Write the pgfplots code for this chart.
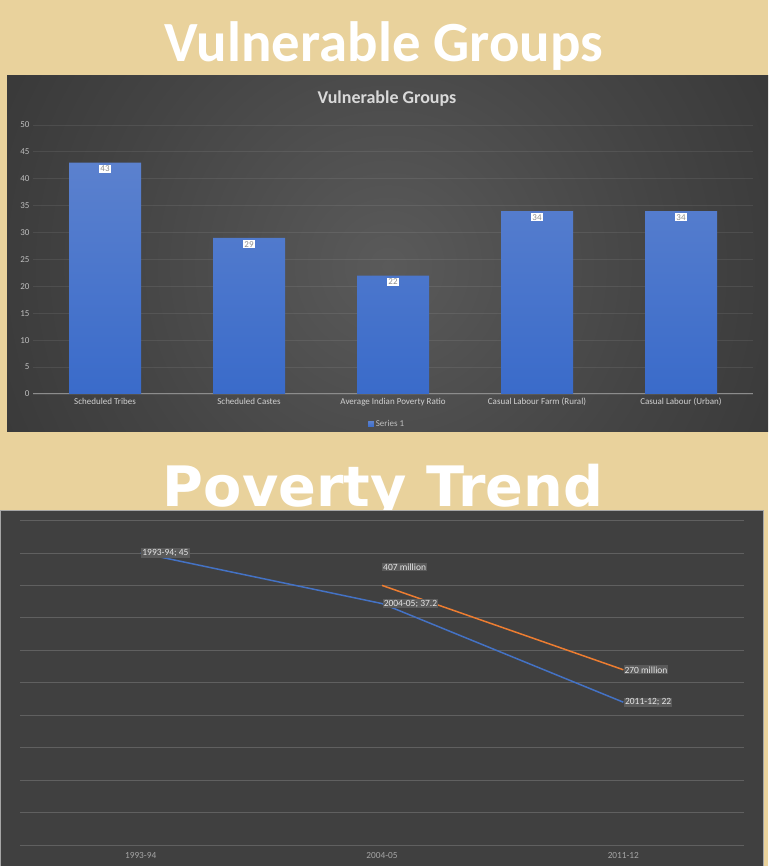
\documentclass[border=0pt]{standalone}
\usepackage{fontspec}
\setmainfont{Carlito}
\newfontfamily\dejavu{DejaVu Sans}
\usepackage{graphicx}
\usepackage{pgfplots}
\usepackage{pgfplotstable}
\pgfplotsset{compat=1.18}

\definecolor{bgtan}{HTML}{E9D29C}
\definecolor{g0}{HTML}{5A5A5A}
\definecolor{g1}{HTML}{444444}
\definecolor{g2}{HTML}{353535}
\definecolor{g3}{HTML}{262626}
\definecolor{g4}{HTML}{1C1C1C}
\definecolor{bartop}{HTML}{5B81CE}
\definecolor{barbot}{HTML}{3A6BCA}
\definecolor{barleg}{HTML}{4472C4}
\definecolor{lineblue}{HTML}{4472C4}
\definecolor{lineorange}{HTML}{ED7D31}
\definecolor{chartdark}{HTML}{404040}
\definecolor{ticktxt}{HTML}{BFBFBF}
\definecolor{titletxt}{HTML}{D9D9D9}
\definecolor{labbg}{HTML}{5A5A5A}
\definecolor{labtxt}{HTML}{E6E6E6}
\definecolor{grid2}{HTML}{606060}

\pgfdeclareradialshading{chartbg}{\pgfpoint{0bp}{0bp}}{color(0bp)=(g0); color(18bp)=(g1); color(32bp)=(g2); color(50bp)=(g3); color(72bp)=(g4)}

\pgfplotstableread{
x y label
0 45 {1993-94{\char59} 45}
1 37.2 {2004-05{\char59} 37.2}
2 22 {2011-12{\char59} 22}
}\bluedata

\begin{document}
\begin{tikzpicture}[x=1pt,y=1pt]
\useasboundingbox (0,0) rectangle (768,866);
\fill[bgtan] (0,0) rectangle (768,866);

% ---- header 1
\node[anchor=base, inner sep=0pt, text=white] at (384,804)
  {\resizebox{438pt}{!}{\fontsize{56}{60}\selectfont\bfseries Vulnerable Groups}};

% ---- chart 1 background (circular radial gradient)
\begin{scope}
\clip (5,434) rectangle (768,790);
\shade[shading=chartbg] (388-381,600-381) rectangle (388+381,600+381);
\end{scope}
\node[anchor=base, inner sep=0pt, text=titletxt] at (387,762)
  {\fontsize{18}{20}\selectfont\bfseries Vulnerable Groups};

\begin{axis}[
  at={(33pt,472pt)}, anchor=south west,
  scale only axis, width=720pt, height=269pt,
  ybar, bar width=72pt,
  xmin=-0.5, xmax=4.5, ymin=0, ymax=50,
  enlarge x limits=false,
  xtick={0,1,2,3,4},
  xticklabels={Scheduled Tribes, Scheduled Castes, Average Indian Poverty Ratio, Casual Labour Farm (Rural), Casual Labour (Urban)},
  ytick={0,5,...,50},
  /pgf/number format/assume math mode=true,
  tick style={draw=none},
  axis x line*=bottom, axis y line*=left,
  x axis line style={draw=white!55!black, line width=1pt, -},
  y axis line style={draw=none},
  ymajorgrids,
  major grid style={draw=white, opacity=0.08, line width=0.8pt},
  ticklabel style={font=\fontsize{9}{10}\selectfont, text=ticktxt},
  xticklabel style={text=white!82!black, yshift=4pt},
  legend style={at={(0.492,-0.112)}, anchor=center, draw=none, fill=none,
    text=ticktxt, font=\fontsize{9}{10}\selectfont},
  legend image code/.code={\fill[barleg] (0pt,-2.8pt) rectangle (5.5pt,2.8pt);},
  nodes near coords,
  every node near coord/.append style={anchor=north, yshift=-2pt, fill=white,
    text=black!45, inner sep=1pt, font=\fontsize{9}{9}\selectfont},
]
\addplot[draw=none, top color=bartop, bottom color=barbot] coordinates {(0,43) (1,29) (2,22) (3,34) (4,34)};
\addlegendentry{Series 1}
\end{axis}

% ---- header 2
\node[anchor=base, inner sep=0pt, text=white] at (383,359)
  {\resizebox{440pt}{!}{\fontsize{56}{60}\selectfont\dejavu\bfseries Poverty Trend}};

% ---- chart 2 background
\fill[chartdark] (0,0) rectangle (764,356);
\draw[white!65!black, line width=1pt] (0.5,-1) -- (0.5,355.5) -- (763.5,355.5) -- (763.5,-1);

\begin{axis}[
  at={(20pt,21pt)}, anchor=south west,
  scale only axis, width=724pt, height=324.5pt,
  xmin=-0.5, xmax=2.5, ymin=0, ymax=50,
  xtick={0,1,2}, xticklabels={1993-94, 2004-05, 2011-12},
  ytick={0,5,...,50}, yticklabels={},
  tick style={draw=none},
  axis line style={draw=none},
  ymajorgrids,
  major grid style={draw=grid2, line width=0.8pt},
  xticklabel style={font=\fontsize{9.3}{10}\selectfont, text=white!65!black, yshift=-4pt},
  clip=false,
  lab/.style={nodes near coords, point meta=explicit symbolic,
    every node near coord/.append style={fill=labbg, text=labtxt,
    inner sep=1pt, font=\fontsize{9.5}{10}\selectfont, #1}},
]
\addplot[lineblue, line width=1.5pt, no markers, lab={anchor=west}]
  table[x=x, y=y, meta=label] {\bluedata};
\addplot[lineorange, line width=1.5pt, no markers] coordinates {(1,40) (2,27)};
\addplot[draw=none, no markers, lab={anchor=south west, yshift=14pt}] coordinates {(1,40) [407 million]};
\addplot[draw=none, no markers, lab={anchor=west}] coordinates {(2,27) [270 million]};
\end{axis}
\end{tikzpicture}
\end{document}
